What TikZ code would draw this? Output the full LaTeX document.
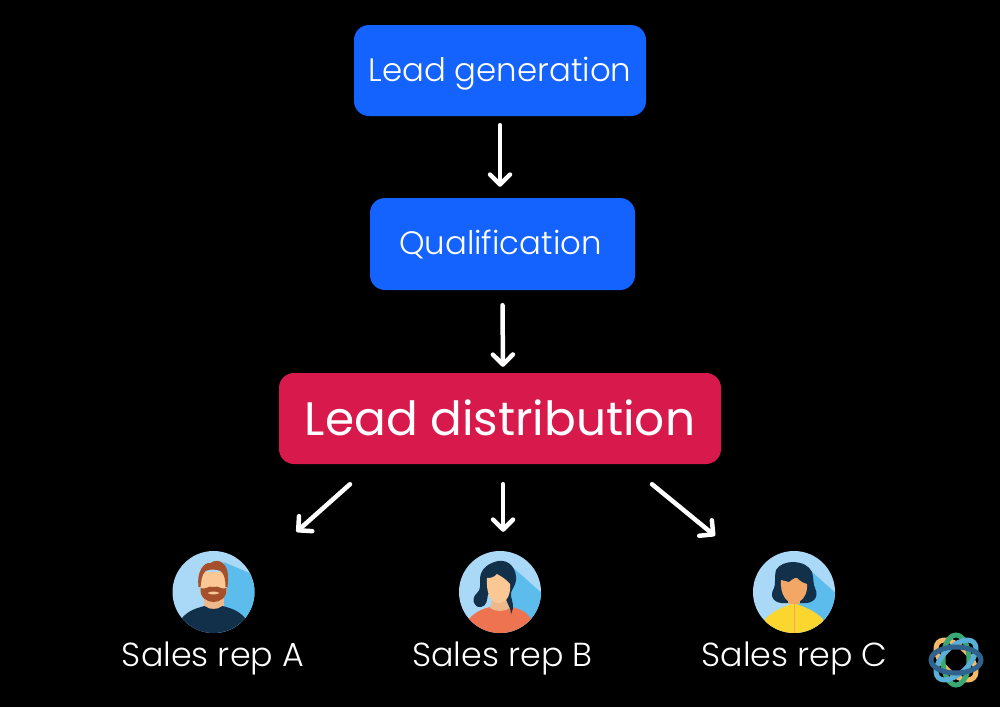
\documentclass[tikz,border=0pt]{standalone}
\usepackage{fontspec}
\setmainfont{Poppins}
\newfontfamily\lightf{Poppins Light}
\usetikzlibrary{arrows.meta,calc}
\definecolor{boxblue}{HTML}{1463FF}
\definecolor{boxred}{HTML}{D7194B}
\definecolor{skyl}{HTML}{A9D9F6}
\definecolor{skyd}{HTML}{5CBDEC}
\definecolor{navy}{HTML}{12304A}
\definecolor{skin}{HTML}{FBC794}
\definecolor{skinb}{HTML}{F2A766}
\definecolor{neck}{HTML}{EDB98A}
\definecolor{brownh}{HTML}{A5502B}
\definecolor{orangeb}{HTML}{EE7350}
\definecolor{yellowb}{HTML}{FBD62F}
\definecolor{logog}{HTML}{3AA873}
\definecolor{logob}{HTML}{2F628C}
\definecolor{logoy}{HTML}{F5B968}
\definecolor{logol}{HTML}{5AAFD8}
\tikzset{
  x=1pt,y=-1pt,
  flowbox/.style={rounded corners=15pt,text=white,inner sep=0pt,anchor=center},
  linkarrow/.style={draw=white,line width=4.5pt,line cap=round,
    -{Straight Barb[length=10pt,width=20pt,line width=4.5pt,round]}},
  replabel/.style={text=white,font=\lightf\fontsize{33.3}{38}\selectfont,inner sep=0pt},
  avatarnode/.style={circle,minimum size=82pt,inner sep=0pt,fill=skyl},
  logoring/.style={line width=5pt,draw=#1},
}
\newcommand{\avatarback}{%
  \fill[skyd] (8,-29) -- (45,4) -- (45,45) -- (0,45) -- cycle;
}
\begin{document}
\begin{tikzpicture}
\useasboundingbox (0,0) rectangle (1000,707);
\fill[black] (0,0) rectangle (1000,707);

\node[flowbox,fill=boxblue,minimum width=292pt,minimum height=91pt,font=\lightf\fontsize{32.4}{38}\selectfont] (gen) at (500,70.5) {\raisebox{0pt}[\dimexpr\height+6pt][\depth]{Lead generation}};
\node[flowbox,fill=boxblue,minimum width=265pt,minimum height=92pt,font=\lightf\fontsize{32.4}{38}\selectfont] (qual) at (502.5,244) {Qualification\hspace*{4pt}};
\node[flowbox,fill=boxred,minimum width=442pt,minimum height=91pt,font=\fontsize{47}{52}\selectfont] (dist) at (500,418.5) {\raisebox{0pt}[\height][\dimexpr\depth+2pt]{Lead distribution}};

\node[avatarnode] (repa) at (213.5,592) {};
\node[avatarnode] (repb) at (500,592) {};
\node[avatarnode] (repc) at (794,592) {};

% Avatar A
\begin{scope}[shift={(repa.center)}]
  \clip (0,0) circle (41);
  \fill[skyd] (10,-30) -- (36,-19) -- (45,4) -- (45,45) -- (0,45) -- cycle;
  \fill[neck] (-10,4) rectangle (10,20);
  \fill[navy] (-33,28) .. controls (-26,18) and (-16,16) .. (-9,14) .. controls (-4,18) and (4,18) .. (9,14) .. controls (16,16) and (26,18) .. (33,28) -- (33,45) -- (-33,45) -- cycle;
  \fill[skin] (-13,-20) -- (13,-20) -- (13,0) .. controls (13,10) and (-13,10) .. (-13,0) -- cycle;
  \fill[brownh] (-13,-4) .. controls (-6,-2) and (-6,-7) .. (0,-5) .. controls (6,-7) and (6,-2) .. (13,-4) .. controls (14,6) and (6,10) .. (0,10) .. controls (-6,10) and (-14,6) .. (-13,-4) -- cycle;
  \fill[skin] (-6,1) .. controls (-2,-1) and (2,-1) .. (6,1) .. controls (2,3) and (-2,3) .. (-6,1) -- cycle;
  \fill[brownh] (-15,-5) .. controls (-17,-20) and (-10,-30) .. (-3,-29) .. controls (0,-32) and (8,-32) .. (10,-28) .. controls (15,-24) and (15,-14) .. (14,-5) -- (12,-5) .. controls (12,-12) and (11,-18) .. (7,-21) .. controls (2,-23) and (-4,-23) .. (-8,-21) .. controls (-12,-17) and (-12,-12) .. (-13,-5) -- cycle;
\end{scope}

% Avatar B
\begin{scope}[shift={(repb.center)}]
  \clip (0,0) circle (41);
  \avatarback
  \fill[orangeb] (-32,28) .. controls (-24,18) and (-14,16) .. (-6,14) -- (8,14) .. controls (16,16) and (26,18) .. (32,28) -- (32,45) -- (-32,45) -- cycle;
  \fill[neck] (-7,5) -- (7,5) -- (10,16) .. controls (4,20) and (-4,20) .. (-10,16) -- cycle;
  \fill[navy] (-2,-31) .. controls (10,-33) and (17,-22) .. (16,-12) .. controls (15,-4) and (10,-2) .. (11,4) .. controls (12,10) and (15,14) .. (11,22) .. controls (11,14) and (5,10) .. (5,2) -- (-12,2) .. controls (-13,8) and (-13,14) .. (-19,15) .. controls (-27,16) and (-29,6) .. (-23,1) .. controls (-19,-2) and (-20,-8) .. (-20,-14) .. controls (-19,-24) and (-11,-29) .. (-2,-31) -- cycle;
  \fill[skin] (-13,-14) .. controls (-8,-14) and (-6,-15) .. (-3,-18) .. controls (2,-15) and (6,-13) .. (10,-8) .. controls (11,0) and (8,11) .. (-1,11) .. controls (-10,11) and (-14,0) .. (-13,-14) -- cycle;
\end{scope}

% Avatar C
\begin{scope}[shift={(repc.center)}]
  \clip (0,0) circle (41);
  \avatarback
  \fill[yellowb] (-29,27) .. controls (-20,18) and (-10,15) .. (0,11) .. controls (10,15) and (20,18) .. (29,27) -- (29,45) -- (-29,45) -- cycle;
  \draw[skinb,line width=1pt] (0,12) -- (0,41);
  \fill[navy] (-18,-22) .. controls (-12,-33) and (12,-33) .. (18,-20) .. controls (20,-12) and (19,-8) .. (21,-4) .. controls (26,6) and (18,12) .. (9,11) -- (-9,11) .. controls (-18,12) and (-26,6) .. (-20,-4) .. controls (-18,-8) and (-20,-14) .. (-18,-22) -- cycle;
  \fill[skinb] (-6,6) rectangle (6,12);
  \fill[skinb] (-13,-12) -- (-5,-10) .. controls (0,-14) and (3,-16) .. (5,-12) .. controls (7,-10) and (10,-9) .. (13,-8) .. controls (14,2) and (8,11) .. (0,11) .. controls (-8,11) and (-14,2) .. (-13,-12) -- cycle;
\end{scope}

\node[replabel] (laba) at (213,658) {Sales rep A};
\node[replabel] (labb) at (502.5,658) {Sales rep B};
\node[replabel] (labc) at (794.5,658) {Sales rep C};

\draw[linkarrow] ([yshift=-9pt]gen.south) -- ([yshift=11pt]qual.north -| gen.south);
\draw[linkarrow] ([yshift=-15pt]qual.south) -- ([xshift=0.5pt,yshift=6pt]dist.north -| qual.south);
\draw[linkarrow] ([xshift=-150pt,yshift=-20pt]dist.south) -- ([xshift=83pt,yshift=19pt]repa.north);
\draw[linkarrow] ([xshift=3pt,yshift=-20pt]dist.south) -- ([xshift=3pt,yshift=19pt]repb.north);
\draw[linkarrow] ([xshift=152pt,yshift=-20pt]dist.south) -- ([xshift=-79pt,yshift=15pt]repc.north);

% Logo
\begin{scope}[shift={(956,660)}]
  \draw[logoring=logoy,rotate=-45] (0,0) ellipse (25 and 13);
  \draw[logoring=logog] (0,0) ellipse (13 and 25);
  \draw[logoring=logol,rotate=45] (0,0) ellipse (25 and 13);
  \draw[logoring=logob] (0,0) ellipse (25 and 13);
\end{scope}
\end{tikzpicture}
\end{document}
